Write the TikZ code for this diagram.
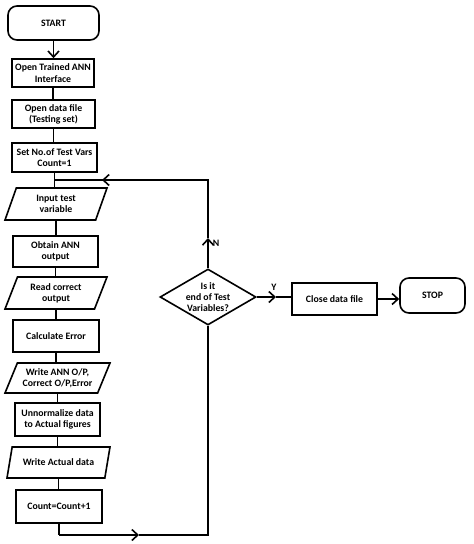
\documentclass[tikz,border=0pt]{standalone}
\usepackage{fontspec}
\setmainfont{Carlito}
\usetikzlibrary{shapes.geometric,arrows.meta}
\begin{document}
\begin{tikzpicture}[x=1pt,y=-1pt,
  every node/.style={font=\bfseries\fontsize{9.8}{11.2}\selectfont, align=center, inner sep=1pt},
  ln/.style={line width=1.6pt, black},
  arr/.style={ln, -{Straight Barb[length=6pt,width=11pt,line width=1.6pt]}},
  box/.style={draw, ln, rectangle, minimum width=#1},
  rbox/.style={draw, ln, rectangle, rounded corners=9pt},
  io/.style={draw, ln, trapezium, trapezium left angle=60, trapezium right angle=120, trapezium stretches body, minimum width=#1}
]
\useasboundingbox (0,0) rectangle (474,544);
\fill[white] (0,0) rectangle (474,544);

\node[rbox, minimum width=91pt, minimum height=34pt] (start) at (53.5,23) {START};
\node[box=82pt, minimum height=28pt] (open) at (53,73) {Open Trained ANN\\Interface};
\node[box=83pt, minimum height=28pt] (data) at (53.5,114) {Open data file\\(Testing set)};
\node[box=85pt, minimum height=29pt] (set) at (54.5,157.5) {Set No.of Test Vars\\Count=1};
\node[io=102pt, minimum height=32pt] (inp) at (56,204) {Input test\\variable};
\node[box=85pt, minimum height=31pt] (obt) at (55.5,251.5) {Obtain ANN\\output};
\node[io=102pt, minimum height=32pt] (read) at (56,293) {Read correct\\output};
\node[box=86pt, minimum height=32pt] (calc) at (56,336) {Calculate Error};
\node[io=105pt, minimum height=30pt] (wann) at (57.5,378) {Write ANN O/P,\\Correct O/P,Error};
\node[box=85pt, minimum height=33pt] (unn) at (57.5,419.5) {Unnormalize data\\to Actual figures};
\node[io=103pt, minimum height=31pt] (wact) at (58.5,462.5) {Write Actual data};
\node[box=86pt, minimum height=33pt] (cnt) at (59,506.5) {Count=Count+1};
\node[draw, ln, diamond, minimum width=96pt, minimum height=56pt, inner sep=0pt, aspect=1.7] (dia) at (208,297) {Is it\\end of Test\\Variables?};
\node[box=85pt, minimum height=32pt] (close) at (334.5,299) {Close data file};
\node[rbox, minimum width=65pt, minimum height=35pt] (stop) at (432.5,295.5) {STOP};

% main line
\draw[arr] (start.south) -- (start.south |- open.north);
\draw[ln] (open.south) -- (open.south |- data.north);
\draw[ln] (data.south) -- (data.south |- set.north);
\draw[ln] (set.south) -- (set.south |- inp.north);
\draw[ln] (inp.south) -- (inp.south |- obt.north);
\draw[ln] (obt.south) -- (obt.south |- read.north);
\draw[ln] (read.south) -- (read.south |- calc.north);
\draw[ln] (calc.south) -- (calc.south |- wann.north);
\draw[ln] (wann.south) -- (wann.south |- unn.north);
\draw[ln] (unn.south) -- (unn.south |- wact.north);
\draw[ln] (wact.south) -- (wact.south |- cnt.north);

% bottom return to decision
\coordinate (bl) at (59,535);
\coordinate (bm) at (139,535);
\coordinate (br) at (208,535);
\draw[ln] (cnt.south) -- (bl);
\draw[arr] (bl) -- (bm);
\draw[ln] (bm) -- (br) -- (dia.south);

% N loop
\coordinate (nm) at (208,238);
\coordinate (tr) at (208,180);
\coordinate (lm) at (102,180);
\coordinate (jn) at (55,180);
\draw[arr] (dia.north) -- (nm);
\draw[ln] (nm) -- (tr) -- (lm);
\draw[arr] (tr) -- (lm);
\draw[ln] (lm) -- (jn);
\node (nlab) at (216,243) {N};

% Y branch
\coordinate (ym) at (276,297);
\draw[arr] (dia.east) -- (ym);
\draw[ln] (ym) -- (close.west |- ym);
\node (ylab) at (274,287) {Y};
\draw[arr] (close.east) -- (stop.west |- close.east);
\end{tikzpicture}
\end{document}
